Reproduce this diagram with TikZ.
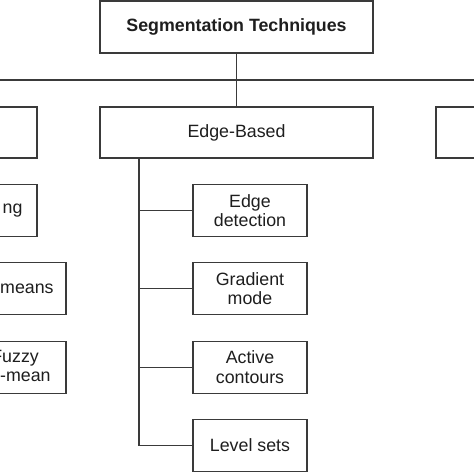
\documentclass[tikz,border=0pt]{standalone}
\usepackage{fontspec}
\setmainfont{Liberation Sans}
\definecolor{linec}{HTML}{3A3A3A}
\definecolor{textc}{HTML}{1E1E1E}
\newcommand{\fsz}{\fontsize{17.8}{19.6}\selectfont}
\begin{document}
\begin{tikzpicture}[x=1pt,y=-1pt,
  conn/.style={draw=linec, line width=1.1pt},
  bigbox/.style={draw=linec, line width=1.1pt, fill=white, minimum width=273pt, minimum height=51pt, inner sep=0pt, align=center, font=\fsz, text=textc},
  smallbox/.style={draw=linec, line width=1.1pt, fill=white, minimum width=114pt, minimum height=52pt, inner sep=0pt, align=center, font=\fsz, text=textc},
  txt/.style={inner sep=0pt, font=\fsz, text=textc, anchor=east}]
\useasboundingbox (0,0) rectangle (474,474);
\clip (0,0) rectangle (474,474);
\fill[white] (0,0) rectangle (474,474);
% level 0
\node[bigbox, minimum height=52pt, font=\fsz\bfseries] (top) at (236.5,27) {Segmentation Techniques};
% bus
\coordinate (hl) at (-10,80);
\coordinate (hr) at (484,80);
\draw[conn] (hl) -- (hr);
% level 1
\node[bigbox] (edge) at (236.5,132.5) {Edge-Based};
\node[bigbox, minimum width=237pt] (left) at (-81.5,132.5) {};
\node[bigbox, minimum width=264pt] (right) at (568,132.5) {};
\draw[conn] (top.south) -- (edge.north);
\draw[conn] (left.north) -- (left.north |- hl);
\draw[conn] (right.north) -- (right.north |- hl);
% edge-based children
\node[smallbox] (ed) at (250,210.5) {Edge\\detection};
\node[smallbox] (gm) at (250,288.7) {Gradient\\mode};
\node[smallbox] (ac) at (250,367.3) {Active\\contours};
\node[smallbox] (ls) at (250,445.5) {Level sets};
\coordinate (tk) at (139,445.5);
\draw[conn] (edge.south -| tk) -- (tk);
\draw[conn] (ed.west -| tk) -- (ed.west);
\draw[conn] (gm.west -| tk) -- (gm.west);
\draw[conn] (ac.west -| tk) -- (ac.west);
\draw[conn] (ls.west -| tk) -- (ls.west);
% left column children (cropped)
\node[smallbox] (l1) at (-20,210.5) {};
\node[smallbox] (l2) at (9,288.7) {};
\node[smallbox] (l3) at (9,367.3) {};
\node[txt] (t1) at (22.7,210.5) {ng};
\node[txt] (t2) at (53.8,288.7) {means};
\node[txt] (t3a) at (39,357.8) {Fuzzy};
\node[txt] (t3b) at (50.8,376.8) {-mean};
\end{tikzpicture}
\end{document}
